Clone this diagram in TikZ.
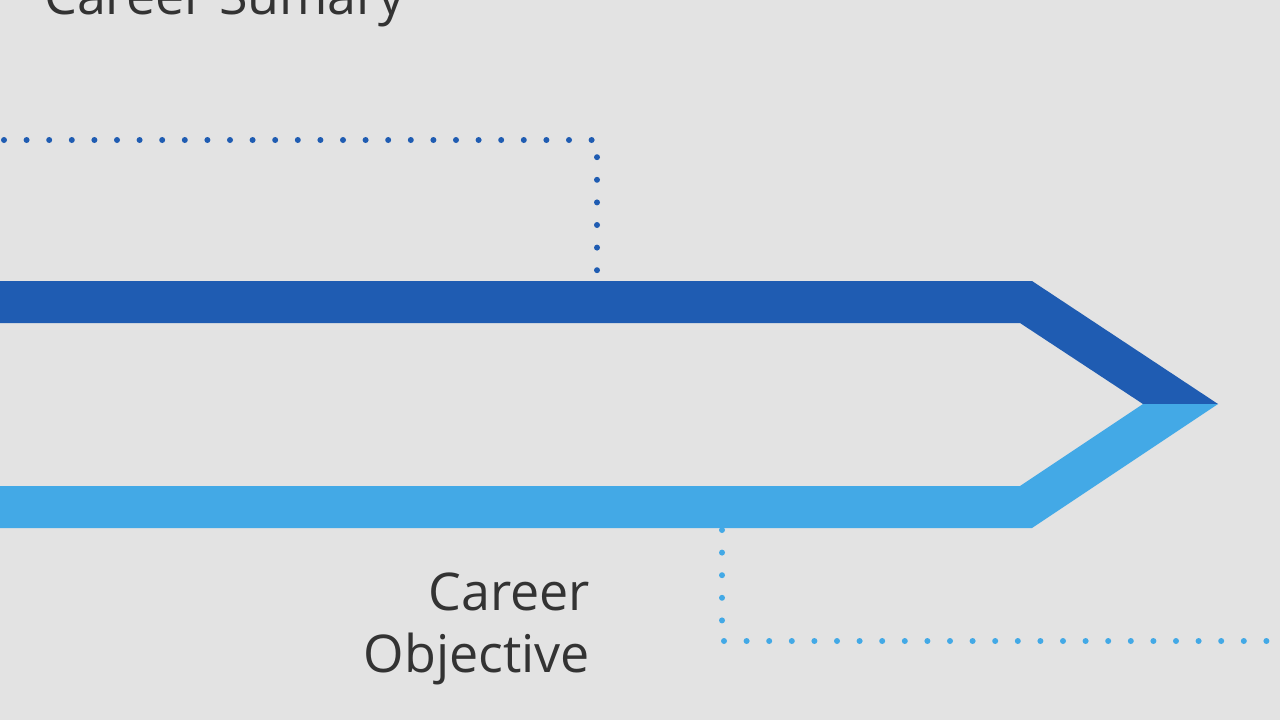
\documentclass[tikz,border=0pt]{standalone}
\usepackage{fontspec}
\setmainfont{Open Sans}
\usepackage{xcolor}
\definecolor{bgGrey}{HTML}{E3E3E3}
\definecolor{darkBlue}{HTML}{1F5CB2}
\definecolor{lightBlue}{HTML}{43A9E6}

\begin{document}
\begin{tikzpicture}[
    x=1pt, y=-1pt,
    band/.style={draw=none},
    dots/.style={line width=6pt, line cap=round, dash pattern=on 0pt off 22.6pt},
    label/.style={align=right, inner sep=0pt, font=\fontsize{52}{62}\selectfont, text=black!80}
]
    \fill[bgGrey] (0,0) rectangle (1280,720);
    \useasboundingbox (0,0) rectangle (1280,720);
    % bands
    \fill[darkBlue, band] (0,281) -- (1032,281) -- (1218,404) -- (1143,404) -- (1020,323) -- (0,323) -- cycle;
    \fill[lightBlue, band] (1143,404) -- (1218,404) -- (1032,528) -- (0,528) -- (0,486) -- (1020,486) -- cycle;
    % dotted leaders
    \coordinate (S0) at (4,140);
    \coordinate (S1) at (597,140);
    \coordinate (S2) at (597,278);
    \coordinate (O0) at (722,530);
    \coordinate (O1) at (722,641);
    \coordinate (O2) at (1290,641);
    \draw[dots, darkBlue] (S0) -- (S1) -- (S2);
    \draw[dots, lightBlue] (O0) -- (O1) -- (O2);
    % labels
    \node[label, anchor=base west] (summary) at (44,14) {Career Sumary};
    \node[label, anchor=base east] (objective) at (590,672) {Career\\Objective};
\end{tikzpicture}
\end{document}
